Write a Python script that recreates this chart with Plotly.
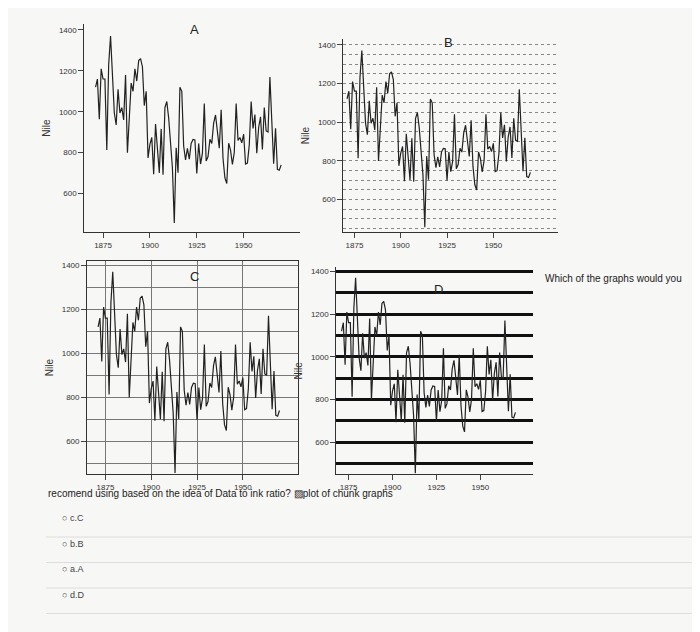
import plotly.graph_objects as go

years = list(range(1871, 1971))
nile = [1120, 1160, 963, 1210, 1160, 1160, 813, 1230, 1370, 1140, 995, 935, 1110, 994, 1020,
        960, 1180, 799, 958, 1140, 1100, 1210, 1150, 1250, 1260, 1220, 1030, 1100, 774, 840,
        874, 694, 940, 833, 701, 916, 692, 1020, 1050, 969, 831, 726, 456, 824, 702, 1120,
        1100, 832, 764, 821, 768, 845, 864, 862, 698, 845, 744, 796, 1040, 759, 781, 865,
        845, 944, 984, 897, 822, 1010, 771, 676, 649, 846, 812, 742, 801, 1040, 860, 874,
        848, 890, 744, 749, 838, 1050, 918, 986, 797, 923, 975, 815, 1020, 906, 901, 1170,
        912, 746, 919, 718, 714, 740]
x_ticks = [1875, 1900, 1925, 1950]
y_ticks = [600, 800, 1000, 1200, 1400]
options = ["c.C", "b.B", "a.A", "d.D"]

W, H = 700, 632
panels = {
    "A": dict(dx=[0.109, 0.417], dy=[0.645, 0.975], xr=[1865, 1980], yr=[410, 1430],
              label=(180, 12), grid=None),
    "B": dict(dx=[0.479, 0.786], dy=[0.645, 0.951], xr=[1869, 1985], yr=[430, 1430],
              label=(440, 25),
              grid=dict(gridcolor="#888", griddash="dot", gridwidth=1, step=50, xgrid=False)),
    "C": dict(dx=[0.113, 0.414], dy=[0.262, 0.6], xr=[1865, 1980], yr=[450, 1420],
              label=(180, 268),
              grid=dict(gridcolor="#777", griddash="solid", gridwidth=1, step=100, xgrid=True)),
    "D": dict(dx=[0.469, 0.75], dy=[0.262, 0.59], xr=[1868, 1980], yr=[450, 1420],
              label=(430, 282),
              grid=dict(gridcolor="#111", griddash="solid", gridwidth=3, step=100, xgrid=False)),
}

fig = go.Figure()
layout = {}
annotations = []
for i, (name, p) in enumerate(panels.items(), start=1):
    sfx = "" if i == 1 else str(i)
    fig.add_trace(go.Scatter(x=years, y=nile, mode="lines", line=dict(color="#222", width=1.2),
                             xaxis="x" + sfx, yaxis="y" + sfx, showlegend=False))
    ya = dict(domain=p["dy"], range=p["yr"], tickvals=y_ticks, ticks="outside", showline=True,
              linecolor="#333", tickfont=dict(size=8, color="#333"), anchor="x" + sfx,
              title=dict(text="Nile", font=dict(size=10, color="#333"), standoff=6),
              showgrid=False, zeroline=False)
    xa = dict(domain=p["dx"], range=p["xr"], tickvals=x_ticks, ticks="outside", showline=True,
              linecolor="#333", tickfont=dict(size=8, color="#333"), anchor="y" + sfx,
              showgrid=False, zeroline=False)
    g = p["grid"]
    if g:
        ya.update(showgrid=True, gridcolor=g["gridcolor"], griddash=g["griddash"],
                  gridwidth=g["gridwidth"],
                  minor=dict(showgrid=True, dtick=g["step"], gridcolor=g["gridcolor"],
                             griddash=g["griddash"], gridwidth=g["gridwidth"], tick0=400))
        if g["xgrid"]:
            xa.update(showgrid=True, gridcolor=g["gridcolor"], gridwidth=g["gridwidth"])
    if name == "C":
        xa["mirror"] = True
        ya["mirror"] = True
    layout["xaxis" + sfx] = xa
    layout["yaxis" + sfx] = ya
    lx, ly = p["label"]
    annotations.append(dict(text=name, x=lx / W, y=1 - ly / H, xref="paper", yref="paper",
                            showarrow=False, font=dict(size=13, color="#222")))

annotations.append(dict(text="Which of the graphs would you", x=535 / W, y=1 - 270 / H,
                        xref="paper", yref="paper", xanchor="left", showarrow=False,
                        font=dict(size=10, color="#222")))
annotations.append(dict(text="recomend using based on the idea of Data to ink ratio? ▨plot of chunk graphs",
                        x=38 / W, y=1 - 493 / H, xref="paper", yref="paper", xanchor="left",
                        showarrow=False, font=dict(size=10, color="#222")))
shapes = []
for k, opt in enumerate(options):
    py = 517 + k * 25.5
    annotations.append(dict(text="○ " + opt, x=52 / W, y=1 - py / H, xref="paper", yref="paper",
                            xanchor="left", showarrow=False, font=dict(size=9, color="#444")))
    shapes.append(dict(type="line", xref="paper", yref="paper", x0=38 / W, x1=690 / W,
                       y0=1 - (py + 12) / H, y1=1 - (py + 12) / H,
                       line=dict(color="#ddd", width=1)))

fig.update_layout(width=W, height=H, margin=dict(l=0, r=0, t=0, b=0),
                  paper_bgcolor="#f7f7f5", plot_bgcolor="#f7f7f5",
                  font=dict(family="Liberation Sans"), annotations=annotations,
                  shapes=shapes, **layout)
fig.write_html("out.html")
